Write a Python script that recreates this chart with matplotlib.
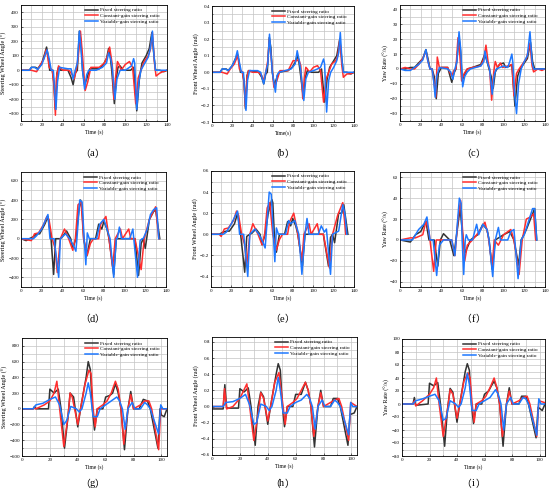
import matplotlib
matplotlib.use("Agg")
import matplotlib.pyplot as plt
from matplotlib.ticker import MultipleLocator, FuncFormatter

plt.rcParams['font.family'] = ['Liberation Serif', 'Noto Sans CJK SC', 'DejaVu Sans']

LABELS = ["Fixed steering ratio", "Constant-gain steering ratio", "Variable-gain steering ratio"]
COLORS = ["#333333", "#ff2d2d", "#1e78ff"]
CAPTIONS = ["a", "b", "c", "d", "e", "f", "g", "h", "i"]
YLABELS = ["Steering Wheel Angle (°)", "Front Wheel Angle (rad)", "Yaw Rate (°/s)"]
XLABELS = ["Time (s)", "Time(s)", "Time (s)", "Time (s)", "Time (s)", "Time (s)",
           "Time (s)", "Time (s)", "Time (s)"]

# ---------------- panel (a) ----------------
A_FIX_T = [0, 8, 10, 14, 16, 20, 23, 24.5, 26, 27.5, 30, 31.5, 33, 34.5, 36, 38, 45, 48, 50, 52, 54, 56, 57.5, 59, 61, 63, 66, 75, 79, 82, 84, 85.5, 87, 89.5, 91.5, 93, 95, 98, 105, 108, 111, 113.5, 116, 120, 123, 125.5, 127.5, 129, 133, 137, 140]
A_FIX_Y = [0, 0, 20, 20, 10, 50, 120, 160, 100, 0, 0, -80, -270, -20, 20, 0, 0, -50, -100, -20, 0, 270, 200, 0, -100, -60, 10, 10, 40, 80, 150, 100, 0, -230, -50, 20, 30, 0, 0, 20, -280, -60, 50, 100, 150, 260, 100, 0, 0, -10, 0]
A_CON_T = [0, 10, 15, 18, 22, 24, 25.5, 27, 30, 31.5, 33, 34, 36, 40, 46, 49, 51, 53, 55, 57, 59, 61.5, 64, 67, 75, 80, 83, 85, 87.5, 89, 90.5, 92.5, 94, 96, 100, 104, 107, 110, 112.5, 115, 118, 122, 124, 126, 128, 129.5, 133, 136, 140]
A_CON_Y = [0, 0, -10, 30, 80, 140, 100, 20, 0, -100, -310, -50, 30, 0, 0, -30, -60, 0, 100, 270, 100, -140, -80, 20, 20, 50, 100, 160, 40, -200, -60, 60, 40, 0, 40, 60, 20, -230, -50, 0, 60, 100, 140, 260, 50, -40, -20, -10, 0]
A_VAR_T = [0, 8, 10, 13, 16, 20, 23, 25, 27, 29, 31, 33.5, 35, 37, 45, 48, 50, 52, 54, 56, 57.5, 59, 61, 63, 65, 72, 78, 82, 84, 86, 87.5, 90, 92, 95, 100, 104, 106, 108, 109, 111, 113, 115, 118, 122, 124, 126, 127.5, 129, 134, 140]
A_VAR_Y = [0, 0, 20, 20, 5, 40, 100, 140, 80, 0, 0, -270, -80, 20, 10, 10, -60, 0, 50, 270, 150, 0, -130, -30, 0, 0, 20, 50, 120, 80, 20, -200, -60, 0, 0, 20, 30, 80, 50, -270, -80, 0, 40, 90, 150, 270, 100, 0, 0, 0]

# ---------------- panel (b) ----------------
B_FIX_T = [0, 8, 10, 14, 16, 20, 23, 25, 26.5, 28, 30, 31.5, 33, 34.5, 36, 38, 46, 49, 51, 53, 54.5, 56.5, 58, 59.5, 61.5, 63.5, 66, 75, 79, 82, 84, 85.5, 87, 90, 92, 94, 98, 105, 108, 111, 113.5, 116, 120, 123, 126, 128, 129.5, 133, 137, 140]
B_FIX_Y = [0, 0, 0.02, 0.02, 0.01, 0.04, 0.08, 0.11, 0.07, 0, 0, -0.05, -0.22, -0.02, 0.01, 0.01, 0, -0.03, -0.07, -0.01, 0, 0.21, 0.15, 0, -0.08, -0.04, 0, 0.01, 0.03, 0.06, 0.1, 0.07, 0, -0.15, -0.03, 0.01, 0, 0, 0.02, -0.18, -0.04, 0.03, 0.07, 0.1, 0.2, 0.08, 0, 0, -0.01, 0]
B_CON_T = [0, 10, 15, 18, 22, 24, 25.5, 27, 30, 31.5, 33, 34.5, 36, 40, 46, 49, 51, 53, 55, 56.5, 58.5, 61, 64, 67, 75, 80, 84, 85.5, 87.5, 89.5, 91, 92.5, 94, 96, 100, 104, 107, 110, 112.5, 115, 118, 122, 124, 126, 128, 129.5, 133, 136, 140]
B_CON_Y = [0, 0, -0.01, 0.02, 0.05, 0.08, 0.1, 0.02, 0, -0.06, -0.21, -0.03, 0.01, 0, 0, -0.02, -0.05, 0, 0.07, 0.2, 0.08, -0.09, -0.05, 0.01, 0.01, 0.07, 0.07, 0.08, 0.04, -0.16, -0.04, 0.03, 0.02, 0, 0.03, 0.04, 0.01, -0.18, -0.04, 0, 0.05, 0.07, 0.1, 0.2, 0.04, -0.03, -0.01, -0.01, 0]
B_VAR_T = [0, 8, 10, 13, 16, 20, 23, 25, 27, 29, 31, 33.5, 35, 37, 45, 48, 51, 53, 55, 56.7, 58, 59.5, 62.5, 64, 66, 72, 78, 82, 84, 86, 87.5, 90.5, 92.5, 95, 100, 104, 107, 110, 111, 113, 115, 117, 120, 123, 125, 126.5, 128, 129.5, 134, 140]
B_VAR_Y = [0, 0, 0.02, 0.02, 0.01, 0.04, 0.08, 0.13, 0.06, 0, 0, -0.23, -0.05, 0.01, 0.01, 0, -0.07, 0, 0.05, 0.23, 0.12, 0, -0.12, -0.02, 0, 0.01, 0.02, 0.05, 0.13, 0.07, 0.01, -0.17, -0.04, 0, 0.01, 0.02, 0.03, 0.08, 0.05, -0.24, -0.05, 0, 0.03, 0.07, 0.12, 0.24, 0.08, 0, 0, 0]

# ---------------- panel (c) ----------------
C_FIX_T = [0, 5, 10, 14, 18, 22, 25, 27, 29, 31, 33, 35, 37, 40, 46, 50, 52, 54, 57, 58.5, 60, 62, 65, 70, 78, 82, 84, 86, 88, 90, 92, 96, 100, 102, 106, 108, 111, 113.5, 116, 120, 123, 126, 128, 130, 135, 140]
C_FIX_Y = [0, 0, 1, 1, 4, 7, 13, 7, 0, 0, -5, -20, -3, 1, 1, -9, -3, 0, 21, 12, -8, -4, 0, 1, 3, 10, 5, 0, -5, -13, -2, 3, 4, 1, 2, 3, -25, -5, 0, 4, 7, 18, 5, 0, 0, 0]
C_CON_T = [0, 5, 10, 14, 18, 22, 25, 27, 29, 31, 33, 34.5, 36, 38, 46, 50, 52, 54, 56, 57.5, 59.5, 62, 65, 70, 78, 81, 83, 85, 86.5, 88.5, 90.5, 92, 94, 97, 99, 104, 108, 110, 112.5, 115, 119, 122, 125.5, 127.5, 129, 133, 137, 140]
C_CON_Y = [0, 1, 0, 0, 3, 7, 12, 5, 0, 0, -10, -19, 8, 1, 1, -5, -1, 0, 21, 12, -8, -3, 0, 1, 2, 7, 16, 5, 0, -21, -2, 5, 1, 4, 1, 2, 3, -18, -3, 0, 4, 7, 17, 2, -2, 0, -1, 0]
C_VAR_T = [0, 5, 10, 14, 18, 22, 25, 27, 29, 31, 32.5, 34, 35.5, 38, 46, 49, 51, 53, 55, 57, 58.5, 60.5, 62.5, 65, 68, 78, 81, 82, 84, 86.5, 89, 91, 93, 100, 104, 106, 108, 109, 110.5, 112.5, 114.5, 117, 120, 123, 125.5, 127.5, 129, 134, 140]
C_VAR_Y = [0, -1, -1, 1, 3, 6, 13, 5, 0, 0, -8, -19, -5, 1, 0, -2, -7, 0, 5, 25, 14, -12, -5, -2, 0, 2, 5, 12, 5, 0, -17, -4, 0, 2, 1, 5, 10, 4, -15, -30, -10, 0, 5, 9, 25, 5, 0, 0, 0]

# ---------------- panel (d) ----------------
D_FIX_T = [0, 5, 8, 12, 15, 18, 23, 26, 29, 31.5, 33.5, 38, 40, 44, 48, 50, 53, 56, 57.5, 59, 60.5, 63.5, 67, 72, 75, 78, 80, 83, 85, 89.5, 92, 105, 110, 113.5, 116, 118, 120, 124, 128, 130, 134]
D_FIX_Y = [0, -20, 0, 20, 50, 50, 150, 230, 0, -370, 0, 0, 20, 80, 0, -100, 0, 300, 400, 300, 0, -180, 0, 0, 150, 100, 180, 100, 0, -370, 0, 0, 0, -380, -50, 0, -100, 200, 280, 300, 0]
D_CON_T = [0, 10, 13, 17, 22, 25, 27, 30, 33, 35, 38, 42, 46, 50, 52.5, 55, 58, 60.5, 64, 67, 70, 75, 77, 82, 84, 88.5, 91, 96, 98, 104, 106, 110, 116, 119, 124, 130, 133]
D_CON_Y = [0, -20, 50, 60, 150, 230, 200, 0, -100, -350, 0, 100, 0, -120, 0, 350, 380, 0, -170, -50, 0, 0, 150, 230, 80, -300, 0, 100, 0, 100, 0, 0, -320, 0, 200, 330, 0]
D_VAR_T = [0, 12, 15, 20, 26, 28, 32, 36.4, 38, 43, 47, 51, 53, 54, 56.7, 59, 61, 62.6, 64, 66, 73, 76, 80, 83, 86, 89.5, 92, 93, 95, 97, 105, 108, 112.5, 115, 117, 118, 122, 125, 128, 131, 133]
D_VAR_Y = [0, 0, 30, 100, 250, 0, 0, -400, 0, 50, 0, -80, -130, 0, 400, 380, 0, -270, 60, 0, 0, 150, 200, 100, 0, -400, 0, 0, 120, 0, 0, 100, -400, -20, 0, 0, 100, 250, 300, 320, 0]

# ---------------- panel (e) ----------------
E_FIX_T = [0, 5, 8, 12, 15, 18, 23, 26, 29, 33, 35, 38, 40, 44, 48, 50, 53, 56, 59.5, 60.5, 62, 64, 67, 72, 75, 78, 80, 83, 85, 89.5, 92, 105, 110, 115, 117, 119, 121, 125, 128, 130, 134]
E_FIX_Y = [0, 0, 0, 0.02, 0.03, 0.03, 0.1, 0.2, 0, -0.36, -0.02, 0, 0.01, 0.05, 0, -0.1, 0, 0.2, 0.33, 0.3, 0, -0.17, 0, 0, 0.12, 0.08, 0.15, 0.08, 0, -0.3, 0, 0, 0, -0.3, -0.03, 0, -0.08, 0.2, 0.2, 0.28, 0]
E_CON_T = [0, 8, 10, 13, 17, 22, 25, 27, 30, 33, 35, 38, 41, 46, 50, 52.5, 55, 57.5, 60.5, 64, 67, 70, 75, 77, 81, 84, 89, 91, 96, 98, 104, 106, 110, 116, 119, 124, 129, 132]
E_CON_Y = [0, 0, -0.02, 0.05, 0.06, 0.13, 0.22, 0.18, 0, -0.1, -0.3, 0, 0.1, 0, -0.1, 0, 0.25, 0.3, 0, -0.15, -0.05, 0, 0, 0.12, 0.2, 0.06, -0.25, 0, 0.1, 0, 0.1, 0, 0, -0.32, 0, 0.18, 0.3, 0]
E_VAR_T = [0, 12, 15, 20, 26, 28, 32, 36, 38, 43, 47, 51, 53, 54, 57, 59, 61, 62.5, 64, 66, 73, 76, 78, 82, 86, 89, 92, 94, 96, 105, 108, 111, 113, 117, 119, 121, 125, 129, 131, 133]
E_VAR_Y = [0, 0, 0.02, 0.1, 0.22, 0, 0, -0.4, 0, 0.05, 0, -0.08, -0.13, 0, 0.4, 0.38, 0, -0.26, 0.06, 0, 0, 0.13, 0.1, 0.13, 0, -0.38, 0, 0.15, 0, 0, 0.08, 0.02, 0.05, -0.38, 0, 0.01, 0.03, 0.28, 0.2, 0]

# ---------------- panel (f) ----------------
F_FIX_T = [0, 10, 15, 20, 25, 28, 33, 36.5, 39, 42, 48, 52, 58, 61, 63, 66, 68, 75, 80, 84, 86, 89, 92, 100, 106, 110, 114.5, 117, 122, 128, 130, 132]
F_FIX_Y = [0, -2, 5, 8, 18, 0, 0, -25, 0, 6, 0, -15, 30, 0, -12, -5, 0, 5, 15, 10, 0, -28, 0, 5, 8, 0, -24, 0, 10, 25, 30, 0]
F_CON_T = [0, 10, 15, 22, 25, 28, 32.5, 35, 45, 50, 53, 56, 58.5, 61, 62.5, 65, 70, 78, 82, 85, 89, 91, 95, 100, 107, 110, 115, 118, 122, 126, 129, 131]
F_CON_Y = [0, 2, 2, 5, 18, 8, -30, 0, 0, 0, -15, 20, 38, 0, -20, -5, 0, 10, 17, 5, -25, 0, -5, 5, 10, 0, -33, 0, 20, 22, 25, 0]
F_VAR_T = [0, 12, 15, 18, 23, 26, 29, 32, 35.4, 38, 42, 50, 53, 57.3, 59, 60, 61.5, 63, 64, 66, 70, 74, 76, 80, 84, 86, 89.5, 92, 95, 97, 104, 107, 110, 114, 117, 120, 128, 130, 132]
F_VAR_Y = [0, 0, 5, 10, 15, 22, 0, 0, -34, -5, 0, 0, -15, 40, 35, 0, -33, 0, 5, 0, 0, 15, 5, 15, 10, 0, -35, 0, 12, 0, 0, 8, 10, -37, 0, 5, 30, 30, 0]

# ---------------- panel (g) ----------------
G_FIX_T = [0, 8, 9, 10, 19, 20, 23, 26, 28, 30.5, 33, 34.5, 37, 40, 42, 46, 47.5, 49, 50.5, 52, 54, 58, 60, 63, 65, 67, 69, 71, 73.5, 76, 78, 80, 84, 87, 90, 92, 97.5, 99, 100, 102, 104]
G_FIX_Y = [0, 0, 30, 0, 0, 250, 200, 250, 0, -500, -100, 200, 150, -230, 0, 400, 600, 500, 0, -270, 0, 0, 150, 170, 200, 320, 200, 0, -520, 0, 220, 0, 0, 120, 100, 0, -500, 0, -80, -100, 0]
G_CON_T = [0, 8, 9, 10, 16, 20, 23, 25, 27, 30, 33, 34.5, 36, 40, 42, 45, 48, 49.5, 51, 52.5, 54, 58, 61, 64, 67, 69, 71, 73, 76, 78, 80, 85, 88, 91, 93, 98, 99.5, 104]
G_CON_Y = [0, 0, 10, 0, 50, 100, 200, 350, 0, -480, -100, 200, 150, -200, 0, 300, 490, 450, 0, -230, 0, 50, 100, 200, 350, 250, 0, -450, 0, 180, 0, 50, 100, 100, 0, -520, 0, 0]
G_VAR_T = [0, 8, 10, 15, 20, 24, 27, 30, 32, 35, 39, 41, 43, 46, 47.5, 49, 51, 54, 56, 60, 64, 68, 70, 72, 74, 76, 79, 81, 85, 88, 90, 92, 98, 99.5, 101, 104]
G_VAR_Y = [0, 0, 50, 70, 120, 150, 50, -200, -150, 30, 0, -40, 0, 200, 330, 200, -100, -100, 0, 50, 100, 150, 100, 0, -260, 0, 80, 0, 0, 80, 50, 0, -320, 50, 0, 0]

# ---------------- panel (h) ----------------
H_FIX_T = [0, 8, 9.2, 10.5, 19, 20, 23, 26, 28, 31, 33, 35, 37, 40, 42, 46, 47.5, 49, 50.5, 52, 54, 58, 60, 64, 67, 69, 71, 73.5, 76, 78, 80, 85, 87, 90, 92, 97.5, 99, 102, 104]
H_FIX_Y = [-0.03, -0.03, 0.27, -0.02, -0.02, 0.22, 0.18, 0.23, 0, -0.48, 0, 0.18, 0.12, -0.22, 0, 0.4, 0.53, 0.45, 0, -0.25, 0, 0, 0.15, 0.15, 0.3, 0.2, 0, -0.5, 0, 0.2, 0, 0, 0.1, 0.1, 0, -0.48, -0.1, -0.08, 0]
H_CON_T = [0, 8, 9, 10.5, 15, 20, 25, 27, 30, 33, 35, 37, 40, 42, 45, 48, 51, 52.5, 54, 58, 61, 64, 67, 69, 71, 73, 76, 78, 80, 85, 88, 91, 93, 98, 99.5, 104]
H_CON_Y = [0, 0, 0.22, -0.03, 0, 0.1, 0.28, 0, -0.42, -0.1, 0.17, 0.1, -0.18, 0, 0.3, 0.42, 0, -0.22, 0, 0.05, 0.1, 0.2, 0.3, 0.2, 0, -0.37, 0, 0.17, 0, 0.05, 0.08, 0.1, 0, -0.42, 0.05, 0]
H_VAR_T = [0, 8, 10, 15, 20, 24, 27, 30, 32, 35, 39, 41, 43, 46, 47.5, 49, 51, 54, 56, 60, 64, 68, 70, 72, 74, 76, 79, 81, 85, 88, 90, 92, 98, 99.5, 101, 104]
H_VAR_Y = [0, 0, 0.05, 0.06, 0.1, 0.15, 0.02, -0.22, -0.2, 0.03, 0, -0.05, 0, 0.2, 0.36, 0.2, -0.08, -0.08, 0, 0.05, 0.08, 0.15, 0.1, 0, -0.28, 0, 0.08, 0, 0, 0.08, 0.05, 0, -0.35, 0.05, 0, 0]

# ---------------- panel (i) ----------------
I_FIX_T = [0, 8, 9, 10, 19, 20, 23, 26, 28, 31, 33, 35, 37, 40, 42, 46, 47.5, 49, 50.5, 52, 54, 58, 60, 63, 65, 67, 69, 71, 73.5, 76, 78, 80, 85, 87, 90, 92, 97.5, 99, 102, 104]
I_FIX_Y = [0, 0, 10, -2, 0, 32, 28, 33, 0, -65, -10, 24, 18, -28, 0, 50, 62, 52, 0, -30, 0, 0, 15, 20, 28, 35, 25, 0, -65, 0, 25, 0, 0, 12, 12, 0, -52, -5, -10, 0]
I_CON_T = [0, 8, 9, 10, 15, 20, 23, 25, 27, 30, 33, 35, 37, 40, 42, 45, 48, 49.5, 51, 52.5, 54, 58, 61, 64, 67, 69, 71, 73, 76, 78, 80, 85, 88, 91, 93, 98, 99.5, 104]
I_CON_Y = [0, 0, 5, -3, 5, 15, 25, 40, 0, -50, -10, 22, 15, -22, 0, 35, 48, 40, 0, -28, 0, 5, 12, 25, 40, 25, 0, -50, 0, 20, 0, 5, 10, 12, 0, -50, 5, 2]
I_VAR_T = [0, 8, 10, 15, 20, 24, 27, 30, 32, 35, 39, 41, 43, 46, 47.5, 49, 51, 54, 56, 60, 64, 68, 70, 72, 74, 76, 79, 81, 85, 88, 90, 92, 98, 99.5, 101, 104]
I_VAR_Y = [0, 0, 5, 8, 12, 15, 5, -25, -22, 5, 0, -5, 0, 25, 47, 30, -10, -10, 0, 5, 10, 22, 15, 0, -40, 0, 10, 0, 0, 10, 8, 0, -48, 8, 0, 0]

PANELS = [
    [(A_FIX_T, A_FIX_Y), (A_CON_T, A_CON_Y), (A_VAR_T, A_VAR_Y)],
    [(B_FIX_T, B_FIX_Y), (B_CON_T, B_CON_Y), (B_VAR_T, B_VAR_Y)],
    [(C_FIX_T, C_FIX_Y), (C_CON_T, C_CON_Y), (C_VAR_T, C_VAR_Y)],
    [(D_FIX_T, D_FIX_Y), (D_CON_T, D_CON_Y), (D_VAR_T, D_VAR_Y)],
    [(E_FIX_T, E_FIX_Y), (E_CON_T, E_CON_Y), (E_VAR_T, E_VAR_Y)],
    [(F_FIX_T, F_FIX_Y), (F_CON_T, F_CON_Y), (F_VAR_T, F_VAR_Y)],
    [(G_FIX_T, G_FIX_Y), (G_CON_T, G_CON_Y), (G_VAR_T, G_VAR_Y)],
    [(H_FIX_T, H_FIX_Y), (H_CON_T, H_CON_Y), (H_VAR_T, H_VAR_Y)],
    [(I_FIX_T, I_FIX_Y), (I_CON_T, I_CON_Y), (I_VAR_T, I_VAR_Y)],
]

XLIMS = [140, 140, 140, 140, 140, 140, 104, 104, 104]
XSTEP = 20
YLIMS = [(-350, 450), (-0.3, 0.4), (-35, 43),
         (-500, 690), (-0.5, 0.6), (-45, 65),
         (-600, 900), (-0.6, 0.86), (-80, 100)]
YSTEPS = [100, 0.1, 10, 200, 0.2, 20, 200, 0.2, 20]
YFMT = ["{:.0f}", "{:.1f}", "{:.0f}", "{:.0f}", "{:.1f}", "{:.0f}", "{:.0f}", "{:.1f}", "{:.0f}"]

W, H = 550, 496
fig = plt.figure(figsize=(W / 100, H / 100), dpi=100)

BOXES = [(21, 5, 167, 121), (212, 6, 354, 122), (400, 5, 545, 121),
         (21, 172, 166, 287), (211, 171, 354, 287), (400, 172, 545, 287),
         (22, 338, 167, 456), (212, 337, 357, 455), (402, 339, 545, 456)]
CAP_X = [92, 282, 473]
CAP_Y = [154, 319, 484]


def fmt_tick(v, f):
    if abs(v) < 1e-9:
        v = 0.0
    return f.format(v).replace("-", "\u2212")


for k in range(9):
    l, t, r, b = BOXES[k]
    ax = fig.add_axes([l / W, 1 - b / H, (r - l) / W, (b - t) / H])
    for (tt, yy), c, lab in zip(PANELS[k], COLORS, LABELS):
        ax.plot(tt, yy, color=c, lw=1.1, label=lab, solid_joinstyle='round')
    ax.set_xlim(0, XLIMS[k])
    ax.set_ylim(*YLIMS[k])
    ax.xaxis.set_major_locator(MultipleLocator(XSTEP))
    ax.xaxis.set_minor_locator(MultipleLocator(XSTEP / 2))
    ax.yaxis.set_major_locator(MultipleLocator(YSTEPS[k]))
    ax.yaxis.set_minor_locator(MultipleLocator(YSTEPS[k] / 2))
    ax.yaxis.set_major_formatter(FuncFormatter(lambda v, p, f=YFMT[k]: fmt_tick(v, f)))
    ax.grid(True, which='both', color='#c4c4c4', lw=0.5)
    ax.set_axisbelow(True)
    ax.tick_params(which='both', direction='in', labelsize=3.6, length=1.5, width=0.4, pad=1.5)
    ax.tick_params(which='minor', length=1)
    for s in ax.spines.values():
        s.set_linewidth(0.6)
    ax.set_xlabel(XLABELS[k], fontsize=4.0, labelpad=1.5)
    ax.set_ylabel(YLABELS[k % 3], fontsize=4.4, labelpad=1)
    ax.legend(loc='upper right', frameon=False, fontsize=3.9, handlelength=2.4,
              borderaxespad=0.2, borderpad=0.3, labelspacing=0.2, handletextpad=0.3,
              bbox_to_anchor=(0.965, 1.0))
    cx = CAP_X[k % 3] / W
    cy = 1 - CAP_Y[k // 3] / H
    fig.text(cx - 7 / W, cy, "（", ha='center', va='center', fontsize=7,
             family=['Noto Sans CJK SC'])
    fig.text(cx, cy, CAPTIONS[k], ha='center', va='center', fontsize=7.5,
             family=['Liberation Serif'])
    fig.text(cx + 7 / W, cy, "）", ha='center', va='center', fontsize=7,
             family=['Noto Sans CJK SC'])

fig.savefig("out.png", dpi=100)
